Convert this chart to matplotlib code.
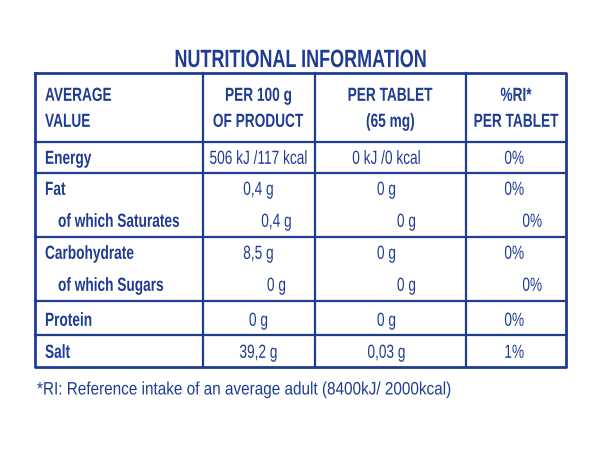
import matplotlib
matplotlib.use('Agg')
import matplotlib.pyplot as plt
from matplotlib.textpath import TextPath
from matplotlib.patches import PathPatch
from matplotlib.font_manager import FontProperties
from matplotlib.transforms import Affine2D

blue = '#1f3c93'

title = 'NUTRITIONAL INFORMATION'
headers = ['AVERAGE\nVALUE', 'PER 100 g\nOF PRODUCT', 'PER TABLET\n(65 mg)', '%RI*\nPER TABLET']
rows = ['Energy', 'Fat', 'of which Saturates', 'Carbohydrate', 'of which Sugars', 'Protein', 'Salt']
sub_row = [False, False, True, False, True, False, False]
per100 = ['506 kJ /117 kcal', '0,4 g', '0,4 g', '8,5 g', '0 g', '0 g', '39,2 g']
pertab = ['0 kJ /0 kcal', '0 g', '0 g', '0 g', '0 g', '0 g', '0,03 g']
ri = ['0%', '0%', '0%', '0%', '0%', '0%', '1%']
footnote = '*RI: Reference intake of an average adult (8400kJ/ 2000kcal)'

row_y = [157, 188, 220, 252, 284, 319, 351]
col_x = [35, 203, 315, 466, 566]
hlines = [142, 173, 237, 301, 335]
top, bottom = 73, 367

fig = plt.figure(figsize=(6, 4.67), dpi=100)
ax = fig.add_axes([0, 0, 1, 1])
ax.set_xlim(0, 600)
ax.set_ylim(467, 0)
ax.axis('off')


def put(x, y, s, size=19, bold=False, ha='left', sx=0.72):
    # condensed text drawn as a squeezed path, y is the vertical centre of caps
    prop = FontProperties(family='Liberation Sans', weight='bold' if bold else 'normal')
    tp = TextPath((0, 0), s, size=size, prop=prop)
    w = tp.get_extents().x1 * sx
    x0 = x - w / 2 if ha == 'center' else x
    base = y + 0.72 * size / 2
    tr = Affine2D().scale(sx, -1).translate(x0, base)
    ax.add_patch(PathPatch(tr.transform_path(tp), fc=blue, ec='none'))


put(300, 58, title, size=25, bold=True, ha='center')

ax.plot([col_x[0], col_x[-1], col_x[-1], col_x[0], col_x[0]],
        [top, top, bottom, bottom, top], color=blue, lw=2)
for x in col_x[1:-1]:
    ax.plot([x, x], [top, bottom], color=blue, lw=1.6)
for y in hlines:
    ax.plot([col_x[0], col_x[-1]], [y, y], color=blue, lw=1.6)

for cx, h, al in zip([45, 258, 390, 516], headers, ['left', 'center', 'center', 'center']):
    for k, line in enumerate(h.split('\n')):
        put(cx, 94 + 26 * k, line, bold=True, ha=al)

for i, name in enumerate(rows):
    y = row_y[i]
    sub = sub_row[i]
    put(58 if sub else 45, y, name, bold=True)
    put(276 if sub else 258, y, per100[i], ha='center')
    put(406 if sub else 386, y, pertab[i], ha='center')
    put(532 if sub else 514, y, ri[i], ha='center')

put(37, 388, footnote, size=18, sx=0.85)

fig.savefig('out.png', dpi=100)
